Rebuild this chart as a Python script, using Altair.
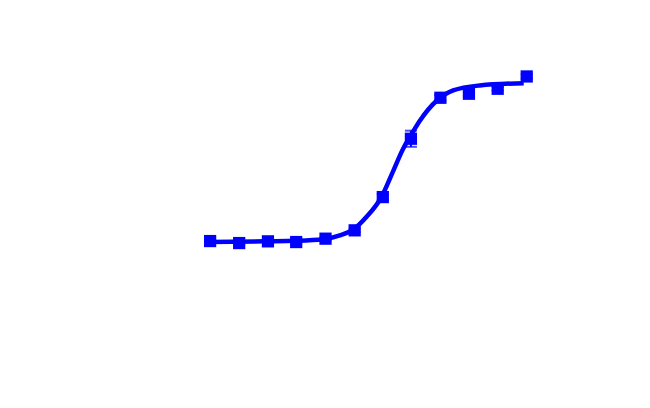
import altair as alt
import pandas as pd

# Measured points (3-fold dilution series of CCL19, molar)
conc = [5.6e-12, 1.7e-11, 5.1e-11, 1.5e-10, 4.6e-10, 1.4e-9,
        4.1e-9, 1.2e-8, 3.7e-8, 1.1e-7, 3.3e-7, 1.0e-6]
rlu = [2162000, 2105000, 2154000, 2134000, 2230000, 2467000,
       3414000, 5075000, 6242000, 6356000, 6498000, 6848000]
rlu_err = [40000, 40000, 40000, 40000, 40000, 50000,
           90000, 230000, 80000, 60000, 50000, 60000]

# Fitted curve (log10 concentration, RLU)
curve_logc = [-11.30, -10.34, -9.83, -9.38, -9.10, -8.88, -8.66, -8.41,
              -8.21, -8.05, -7.94, -7.77, -7.49, -7.22, -6.78, -6.05]
curve_rlu = [2134000, 2154000, 2168000, 2211000, 2324000, 2487000, 2845000, 3414000,
             4174000, 4791000, 5121000, 5596000, 6165000, 6450000, 6592000, 6657000]

x_ticks = [1e-12, 1e-11, 1e-10, 1e-9, 1e-8, 1e-7, 1e-6, 1e-5]
x_tick_labels = ["10⁻¹²", "10⁻¹¹", "10⁻¹⁰", "10⁻⁹", "10⁻⁸", "10⁻⁷", "10⁻⁶", "10⁻⁵"]
y_ticks = [0, 2000000, 4000000, 6000000, 8000000]

pts = pd.DataFrame({"conc": conc, "rlu": rlu, "err": rlu_err})
pts["lo"] = pts["rlu"] - pts["err"]
pts["hi"] = pts["rlu"] + pts["err"]
curve = pd.DataFrame({"conc": [10 ** v for v in curve_logc], "rlu": curve_rlu})

label_expr = "[" + ",".join("'" + s + "'" for s in x_tick_labels) + "][round(log(datum.value)/LN10)+12]"

FONT = "Liberation Sans"
TXT = "#ffffff"

xscale = alt.Scale(type="log", domain=[1e-12, 1e-5])
yscale = alt.Scale(domain=[0, 8000000])

xaxis = alt.Axis(values=x_ticks, labelExpr=label_expr, title="CCL19, M",
                 labelColor=TXT, titleColor=TXT, domainColor=TXT, tickColor=TXT,
                 grid=False, labelFont=FONT, titleFont=FONT, labelFontSize=21,
                 titleFontSize=22, labelPadding=14, titlePadding=12,
                 labelFontWeight="bold", titleFontWeight="bold")
yaxis = alt.Axis(values=y_ticks, format="d", title="RLU",
                 labelColor=TXT, titleColor=TXT, domainColor=TXT, tickColor=TXT,
                 grid=False, labelFont=FONT, titleFont=FONT, labelFontSize=21,
                 titleFontSize=22, labelPadding=4, titlePadding=40,
                 labelFontWeight="bold", titleFontWeight="bold")

line = alt.Chart(curve).mark_line(color="#0000ff", strokeWidth=4.5, interpolate="monotone").encode(
    x=alt.X("conc:Q", scale=xscale, axis=xaxis),
    y=alt.Y("rlu:Q", scale=yscale, axis=yaxis),
)

bars = alt.Chart(pts).mark_rule(color="#0000ff", strokeWidth=2).encode(
    x=alt.X("conc:Q", scale=xscale),
    y=alt.Y("lo:Q", scale=yscale),
    y2="hi:Q",
)
caps_hi = alt.Chart(pts).mark_tick(color="#0000ff", thickness=2, size=12, orient="horizontal").encode(
    x=alt.X("conc:Q", scale=xscale), y=alt.Y("hi:Q", scale=yscale))
caps_lo = alt.Chart(pts).mark_tick(color="#0000ff", thickness=2, size=12, orient="horizontal").encode(
    x=alt.X("conc:Q", scale=xscale), y=alt.Y("lo:Q", scale=yscale))

points = alt.Chart(pts).mark_point(shape="square", filled=True, size=150, color="#0000ff", opacity=1).encode(
    x=alt.X("conc:Q", scale=xscale),
    y=alt.Y("rlu:Q", scale=yscale),
)

chart = alt.layer(line, bars, caps_hi, caps_lo, points).properties(
    width=422, height=281,
    autosize=alt.AutoSizeParams(type="none"),
    padding={"left": 157, "top": 28, "right": 55, "bottom": 75},
    background="white",
).configure_view(stroke=None)

chart.save("out.html", embed_options={"renderer": "svg", "actions": False})
